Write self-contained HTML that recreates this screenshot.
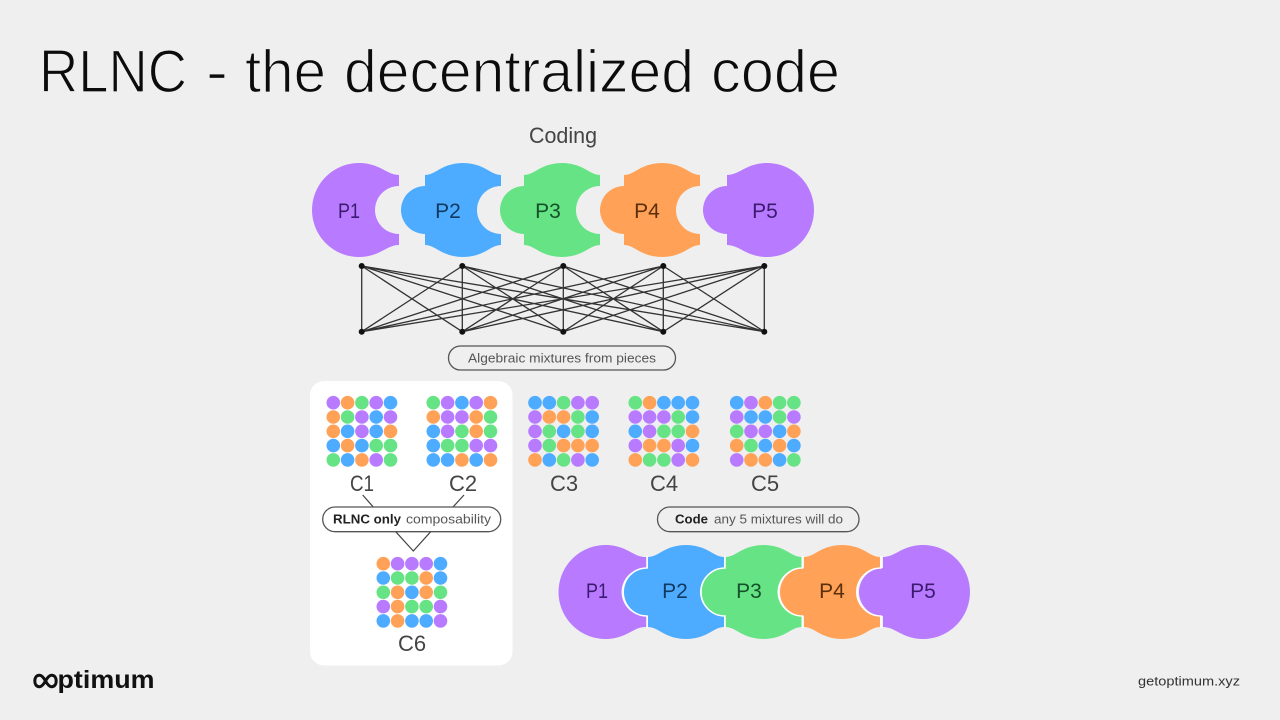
<!DOCTYPE html>
<html lang="en">
<head>
<meta charset="utf-8">
<title>RLNC - the decentralized code</title>
<style>
html,body{margin:0;padding:0;background:#efefef;width:1280px;height:720px;overflow:hidden}
svg{display:block;filter:blur(0.3px)}
text{font-family:"Liberation Sans",sans-serif}
circle.p,circle.o,circle.g,circle.b{r:6.8px}
.p{fill:#b87bff}.o{fill:#ffa257}.g{fill:#66e384}.b{fill:#4dacff}
.t{font-size:60px;fill:#0c0c0c;stroke:#efefef;stroke-width:1.3px}
.pl{font-size:21px;text-anchor:middle}
.cl{font-size:22px;text-anchor:middle;fill:#444}
.pill{fill:none;stroke:#555;stroke-width:1.3}
.pt{font-size:13px;fill:#555}
.pb{font-size:13px;font-weight:bold;fill:#222}
</style>
</head>
<body>
<svg width="1280" height="720" viewBox="0 0 1280 720" xmlns="http://www.w3.org/2000/svg">
<defs>
<path id="first" d="M40,-35 L40,-24 A24 24 0 0 0 40,24 L40,35 C32,35 26,40 19,43 A47 47 0 1 1 19,-43 C26,-40 32,-35 40,-35 Z"/>
<path id="mid" d="M-38,-35 C-31,-35 -26,-40 -19,-43 A47 47 0 0 1 19,-43 C26,-40 31,-35 38,-35 L38,-24 A24 24 0 0 0 38,24 L38,35 C31,35 26,40 19,43 A47 47 0 0 1 -19,43 C-26,40 -31,35 -38,35 L-38,24 A24 24 0 0 1 -38,-24 Z"/>
<path id="last" d="M-40,-35 C-32,-35 -26,-40 -19,-43 A47 47 0 1 1 -19,43 C-26,40 -32,35 -40,35 L-40,24 A24 24 0 0 1 -40,-24 Z"/>
<path id="seam" d="M0,-36 L0,-24 A24 24 0 0 0 0,24 L0,36" fill="none" stroke="#fff" stroke-width="1.5"/>
</defs>

<text class="t" x="39" y="92" textLength="148" lengthAdjust="spacingAndGlyphs">RLNC</text>
<text class="t" x="206" y="92" textLength="22" lengthAdjust="spacingAndGlyphs">-</text>
<text class="t" x="245" y="92" textLength="81" lengthAdjust="spacingAndGlyphs">the</text>
<text class="t" x="344" y="92" textLength="350" lengthAdjust="spacingAndGlyphs">decentralized</text>
<text class="t" x="711" y="92" textLength="129" lengthAdjust="spacingAndGlyphs">code</text>
<text x="563" y="143" font-size="22" fill="#444" text-anchor="middle" textLength="68" lengthAdjust="spacingAndGlyphs">Coding</text>

<!-- top pieces -->
<use href="#first" class="p" transform="translate(359,210)"/>
<use href="#mid" class="b" transform="translate(463,210)"/>
<use href="#mid" class="g" transform="translate(562,210)"/>
<use href="#mid" class="o" transform="translate(662,210)"/>
<use href="#last" class="p" transform="translate(767,210)"/>
<text class="pl" x="349" y="218" fill="#3b1a70" textLength="22" lengthAdjust="spacingAndGlyphs">P1</text>
<text class="pl" x="448" y="218" fill="#12395f">P2</text>
<text class="pl" x="548" y="218" fill="#14502a">P3</text>
<text class="pl" x="647" y="218" fill="#5a2f0c">P4</text>
<text class="pl" x="765" y="218" fill="#3b1a70">P5</text>

<!-- network -->
<path fill="none" stroke="#333" stroke-width="1.3" d="
M361.7,266L361.7,331.7M361.7,266L462.3,331.7M361.7,266L563.3,331.7M361.7,266L663.3,331.7M361.7,266L764.3,331.7
M462.3,266L361.7,331.7M462.3,266L462.3,331.7M462.3,266L563.3,331.7M462.3,266L663.3,331.7M462.3,266L764.3,331.7
M563.3,266L361.7,331.7M563.3,266L462.3,331.7M563.3,266L563.3,331.7M563.3,266L663.3,331.7M563.3,266L764.3,331.7
M663.3,266L361.7,331.7M663.3,266L462.3,331.7M663.3,266L563.3,331.7M663.3,266L663.3,331.7M663.3,266L764.3,331.7
M764.3,266L361.7,331.7M764.3,266L462.3,331.7M764.3,266L563.3,331.7M764.3,266L663.3,331.7M764.3,266L764.3,331.7"/>
<g fill="#111">
<circle cx="361.7" cy="266" r="3"/><circle cx="462.3" cy="266" r="3"/><circle cx="563.3" cy="266" r="3"/><circle cx="663.3" cy="266" r="3"/><circle cx="764.3" cy="266" r="3"/>
<circle cx="361.7" cy="331.7" r="3"/><circle cx="462.3" cy="331.7" r="3"/><circle cx="563.3" cy="331.7" r="3"/><circle cx="663.3" cy="331.7" r="3"/><circle cx="764.3" cy="331.7" r="3"/>
</g>

<rect class="pill" x="448.5" y="346" width="227" height="24" rx="12"/>
<text class="pt" x="468" y="362.5" textLength="188" lengthAdjust="spacingAndGlyphs">Algebraic mixtures from pieces</text>

<!-- white card -->
<rect x="310" y="381" width="202.500" height="284.500" rx="14" fill="#fff"/>

<!-- C1 -->
<g transform="translate(333.300,402.700)">
<circle class="p" cx="0" cy="0"/><circle class="o" cx="14.300" cy="0"/><circle class="g" cx="28.600" cy="0"/><circle class="p" cx="42.900" cy="0"/><circle class="b" cx="57.200" cy="0"/>
<circle class="o" cx="0" cy="14.300"/><circle class="g" cx="14.300" cy="14.300"/><circle class="p" cx="28.600" cy="14.300"/><circle class="b" cx="42.900" cy="14.300"/><circle class="p" cx="57.200" cy="14.300"/>
<circle class="o" cx="0" cy="28.600"/><circle class="b" cx="14.300" cy="28.600"/><circle class="p" cx="28.600" cy="28.600"/><circle class="b" cx="42.900" cy="28.600"/><circle class="o" cx="57.200" cy="28.600"/>
<circle class="b" cx="0" cy="42.900"/><circle class="o" cx="14.300" cy="42.900"/><circle class="b" cx="28.600" cy="42.900"/><circle class="g" cx="42.900" cy="42.900"/><circle class="g" cx="57.200" cy="42.900"/>
<circle class="g" cx="0" cy="57.200"/><circle class="b" cx="14.300" cy="57.200"/><circle class="o" cx="28.600" cy="57.200"/><circle class="p" cx="42.900" cy="57.200"/><circle class="g" cx="57.200" cy="57.200"/>
</g>
<!-- C2 -->
<g transform="translate(433.300,402.700)">
<circle class="g" cx="0" cy="0"/><circle class="p" cx="14.300" cy="0"/><circle class="b" cx="28.600" cy="0"/><circle class="p" cx="42.900" cy="0"/><circle class="o" cx="57.200" cy="0"/>
<circle class="o" cx="0" cy="14.300"/><circle class="p" cx="14.300" cy="14.300"/><circle class="p" cx="28.600" cy="14.300"/><circle class="o" cx="42.900" cy="14.300"/><circle class="g" cx="57.200" cy="14.300"/>
<circle class="b" cx="0" cy="28.600"/><circle class="p" cx="14.300" cy="28.600"/><circle class="g" cx="28.600" cy="28.600"/><circle class="o" cx="42.900" cy="28.600"/><circle class="g" cx="57.200" cy="28.600"/>
<circle class="b" cx="0" cy="42.900"/><circle class="g" cx="14.300" cy="42.900"/><circle class="g" cx="28.600" cy="42.900"/><circle class="p" cx="42.900" cy="42.900"/><circle class="p" cx="57.200" cy="42.900"/>
<circle class="b" cx="0" cy="57.200"/><circle class="b" cx="14.300" cy="57.200"/><circle class="o" cx="28.600" cy="57.200"/><circle class="b" cx="42.900" cy="57.200"/><circle class="o" cx="57.200" cy="57.200"/>
</g>
<!-- C3 -->
<g transform="translate(535,402.700)">
<circle class="b" cx="0" cy="0"/><circle class="b" cx="14.300" cy="0"/><circle class="g" cx="28.600" cy="0"/><circle class="p" cx="42.900" cy="0"/><circle class="p" cx="57.200" cy="0"/>
<circle class="p" cx="0" cy="14.300"/><circle class="o" cx="14.300" cy="14.300"/><circle class="o" cx="28.600" cy="14.300"/><circle class="g" cx="42.900" cy="14.300"/><circle class="b" cx="57.200" cy="14.300"/>
<circle class="p" cx="0" cy="28.600"/><circle class="g" cx="14.300" cy="28.600"/><circle class="b" cx="28.600" cy="28.600"/><circle class="g" cx="42.900" cy="28.600"/><circle class="b" cx="57.200" cy="28.600"/>
<circle class="p" cx="0" cy="42.900"/><circle class="g" cx="14.300" cy="42.900"/><circle class="o" cx="28.600" cy="42.900"/><circle class="o" cx="42.900" cy="42.900"/><circle class="o" cx="57.200" cy="42.900"/>
<circle class="o" cx="0" cy="57.200"/><circle class="b" cx="14.300" cy="57.200"/><circle class="g" cx="28.600" cy="57.200"/><circle class="p" cx="42.900" cy="57.200"/><circle class="b" cx="57.200" cy="57.200"/>
</g>
<!-- C4 -->
<g transform="translate(635.300,402.700)">
<circle class="g" cx="0" cy="0"/><circle class="o" cx="14.300" cy="0"/><circle class="b" cx="28.600" cy="0"/><circle class="b" cx="42.900" cy="0"/><circle class="b" cx="57.200" cy="0"/>
<circle class="p" cx="0" cy="14.300"/><circle class="p" cx="14.300" cy="14.300"/><circle class="p" cx="28.600" cy="14.300"/><circle class="g" cx="42.900" cy="14.300"/><circle class="b" cx="57.200" cy="14.300"/>
<circle class="b" cx="0" cy="28.600"/><circle class="p" cx="14.300" cy="28.600"/><circle class="g" cx="28.600" cy="28.600"/><circle class="g" cx="42.900" cy="28.600"/><circle class="o" cx="57.200" cy="28.600"/>
<circle class="p" cx="0" cy="42.900"/><circle class="o" cx="14.300" cy="42.900"/><circle class="o" cx="28.600" cy="42.900"/><circle class="p" cx="42.900" cy="42.900"/><circle class="b" cx="57.200" cy="42.900"/>
<circle class="o" cx="0" cy="57.200"/><circle class="g" cx="14.300" cy="57.200"/><circle class="g" cx="28.600" cy="57.200"/><circle class="p" cx="42.900" cy="57.200"/><circle class="o" cx="57.200" cy="57.200"/>
</g>
<!-- C5 -->
<g transform="translate(736.700,402.700)">
<circle class="b" cx="0" cy="0"/><circle class="p" cx="14.300" cy="0"/><circle class="o" cx="28.600" cy="0"/><circle class="g" cx="42.900" cy="0"/><circle class="g" cx="57.200" cy="0"/>
<circle class="p" cx="0" cy="14.300"/><circle class="b" cx="14.300" cy="14.300"/><circle class="b" cx="28.600" cy="14.300"/><circle class="g" cx="42.900" cy="14.300"/><circle class="p" cx="57.200" cy="14.300"/>
<circle class="g" cx="0" cy="28.600"/><circle class="p" cx="14.300" cy="28.600"/><circle class="p" cx="28.600" cy="28.600"/><circle class="b" cx="42.900" cy="28.600"/><circle class="o" cx="57.200" cy="28.600"/>
<circle class="o" cx="0" cy="42.900"/><circle class="g" cx="14.300" cy="42.900"/><circle class="b" cx="28.600" cy="42.900"/><circle class="o" cx="42.900" cy="42.900"/><circle class="b" cx="57.200" cy="42.900"/>
<circle class="p" cx="0" cy="57.200"/><circle class="o" cx="14.300" cy="57.200"/><circle class="o" cx="28.600" cy="57.200"/><circle class="b" cx="42.900" cy="57.200"/><circle class="g" cx="57.200" cy="57.200"/>
</g>
<!-- C6 -->
<g transform="translate(383.300,563.700)">
<circle class="o" cx="0" cy="0"/><circle class="p" cx="14.300" cy="0"/><circle class="p" cx="28.600" cy="0"/><circle class="p" cx="42.900" cy="0"/><circle class="b" cx="57.200" cy="0"/>
<circle class="b" cx="0" cy="14.300"/><circle class="g" cx="14.300" cy="14.300"/><circle class="g" cx="28.600" cy="14.300"/><circle class="o" cx="42.900" cy="14.300"/><circle class="b" cx="57.200" cy="14.300"/>
<circle class="g" cx="0" cy="28.600"/><circle class="o" cx="14.300" cy="28.600"/><circle class="b" cx="28.600" cy="28.600"/><circle class="o" cx="42.900" cy="28.600"/><circle class="g" cx="57.200" cy="28.600"/>
<circle class="p" cx="0" cy="42.900"/><circle class="o" cx="14.300" cy="42.900"/><circle class="g" cx="28.600" cy="42.900"/><circle class="g" cx="42.900" cy="42.900"/><circle class="p" cx="57.200" cy="42.900"/>
<circle class="b" cx="0" cy="57.200"/><circle class="o" cx="14.300" cy="57.200"/><circle class="b" cx="28.600" cy="57.200"/><circle class="b" cx="42.900" cy="57.200"/><circle class="p" cx="57.200" cy="57.200"/>
</g>

<text class="cl" x="362" y="491" textLength="24" lengthAdjust="spacingAndGlyphs">C1</text>
<text class="cl" x="463" y="491">C2</text>
<text class="cl" x="564" y="491">C3</text>
<text class="cl" x="664" y="491">C4</text>
<text class="cl" x="765" y="491">C5</text>
<text class="cl" x="412" y="651">C6</text>

<!-- connectors in card -->
<path fill="none" stroke="#444" stroke-width="1.2" d="M362.700,495L373,506.700M464,495L453.300,506.700M395.700,531.700L413.300,551L430.700,531.700"/>
<rect class="pill" x="322.700" y="507" width="178" height="24.700" rx="12.300"/>
<text class="pb" x="333" y="523.500" textLength="68" lengthAdjust="spacingAndGlyphs">RLNC only</text>
<text class="pt" x="406" y="523.500" textLength="85" lengthAdjust="spacingAndGlyphs">composability</text>

<rect class="pill" x="657.500" y="507" width="201.500" height="24.700" rx="12.300"/>
<text class="pb" x="675" y="523.500" textLength="33" lengthAdjust="spacingAndGlyphs">Code</text>
<text class="pt" x="714" y="523.500" textLength="129" lengthAdjust="spacingAndGlyphs">any 5 mixtures will do</text>

<!-- bottom pieces -->
<use href="#first" class="p" transform="translate(605.500,592)"/>
<rect class="p" x="640" y="557" width="7" height="11"/>
<rect class="p" x="640" y="616" width="7" height="11"/>
<use href="#mid" class="b" transform="translate(686,592)"/>
<use href="#mid" class="g" transform="translate(763.500,592)"/>
<use href="#mid" class="o" transform="translate(842,592)"/>
<use href="#last" class="p" transform="translate(923,592)"/>
<use href="#seam" transform="translate(647,592)"/>
<use href="#seam" transform="translate(725,592)"/>
<use href="#seam" transform="translate(802.500,592)"/>
<use href="#seam" transform="translate(881,592)"/>
<text class="pl" x="597" y="598" fill="#3b1a70" textLength="22" lengthAdjust="spacingAndGlyphs">P1</text>
<text class="pl" x="675" y="598" fill="#12395f">P2</text>
<text class="pl" x="749" y="598" fill="#14502a">P3</text>
<text class="pl" x="832" y="598" fill="#5a2f0c">P4</text>
<text class="pl" x="923" y="598" fill="#3b1a70">P5</text>

<!-- logo -->
<path fill="none" stroke="#111" stroke-width="3" d="M45.500,681 C43.500,677.500 41.500,675.300 39.500,675.300 C36,675.300 34.800,678.300 34.800,681 C34.800,683.700 36,686.700 39.500,686.700 C41.500,686.700 43.500,684.500 45.500,681 C47.500,677.500 49.500,675.300 51.500,675.300 C55,675.300 56.200,678.300 56.200,681 C56.200,683.700 55,686.700 51.500,686.700 C49.500,686.700 47.500,684.500 45.500,681 Z"/>
<text x="57.500" y="688" font-size="25" font-weight="bold" fill="#111" textLength="97" lengthAdjust="spacingAndGlyphs">ptimum</text>

<text x="1138" y="685.500" font-size="13" fill="#333" textLength="102" lengthAdjust="spacingAndGlyphs">getoptimum.xyz</text>
</svg>
</body>
</html>
